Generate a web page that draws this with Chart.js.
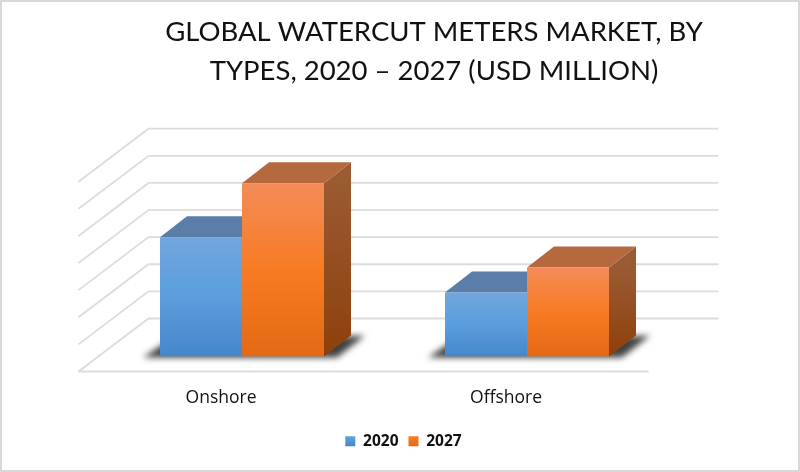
<!DOCTYPE html>
<html><head><meta charset="utf-8">
<style>html,body{margin:0;padding:0;background:#fff}canvas{display:block}#w{width:800px;height:472px;position:relative}</style>
<script src="https://cdn.jsdelivr.net/npm/chart.js@4"></script>
</head><body><div id="w"><canvas id="c" width="800" height="472"></canvas></div>
<script>
const categories = ["Onshore", "Offshore"];
const values2020 = [4.4, 2.36];
const values2027 = [6.39, 3.28];
const axisMax = 7;
const titleLines = ["GLOBAL WATERCUT METERS MARKET, BY", "TYPES, 2020 – 2027 (USD MILLION)"];

const FRONT = {dx:-21, dy:15}, BACK = {dx:49, dy:-38}, BAR = {dx:27, dy:-21};
function vgrad(ctx, top, bottom, stops){
  const g = ctx.createLinearGradient(0, top, 0, bottom);
  stops.forEach(s => g.addColorStop(s[0], s[1]));
  return g;
}
const blue = [[0,'#72A6DD'],[0.5,'#5A9EDD'],[1,'#4487CB']];
const orange = [[0,'#F48C58'],[0.5,'#F77B23'],[1,'#E36914']];
const sides = ['#9A5A32','#8E400B'];
const tops = ['#5A7EA8','#B5693F'];
function faceFill(stops){
  return c => {
    const a = c.chart.chartArea;
    if(!a) return stops[1][1];
    const y = c.chart.scales.y;
    return vgrad(c.chart.ctx, y.getPixelForValue(c.raw), y.getPixelForValue(0), stops);
  };
}
const wall3d = {
  id:'wall3d',
  afterLayout(chart){
    const t = chart.titleBlock; if(t){t.left += 49.5; t.right += 49.5;}
    const l = chart.legend; if(l){l.left += 19; l.right += 19;}
  },
  beforeDraw(chart){
    const {ctx, width, height} = chart;
    ctx.save();
    ctx.strokeStyle = '#D9D9D9'; ctx.lineWidth = 2;
    ctx.strokeRect(1, 1, width-2, height-2);
    ctx.restore();
  },
  beforeDatasetsDraw(chart){
    const {ctx, scales:{x,y}} = chart;
    const L = x.left, R = x.right;
    ctx.save();
    ctx.strokeStyle = '#DCDCDC'; ctx.lineWidth = 1.8;
    y.ticks.forEach(t => {
      const py = y.getPixelForValue(t.value);
      ctx.beginPath();
      ctx.moveTo(L+FRONT.dx, py+FRONT.dy);
      ctx.lineTo(L+BACK.dx, py+BACK.dy);
      ctx.lineTo(R+BACK.dx, py+BACK.dy);
      ctx.stroke();
    });
    const y0 = y.getPixelForValue(0);
    ctx.beginPath();
    ctx.moveTo(L+FRONT.dx, y0+FRONT.dy);
    ctx.lineTo(R+FRONT.dx, y0+FRONT.dy);
    ctx.stroke();
    // floor shadows
    const m0 = chart.getDatasetMeta(0).data, m1 = chart.getDatasetMeta(1).data;
    m0.forEach((b,i) => {
      const l = b.x - b.width/2, r = m1[i].x + m1[i].width/2;
      ctx.save();
      ctx.filter = 'blur(3px)';
      ctx.fillStyle = 'rgba(30,30,30,0.85)';
      ctx.beginPath();
      ctx.moveTo(l-17, y0+1); ctx.lineTo(l+4, y0-13);
      ctx.lineTo(r+BAR.dx+14, y0+BAR.dy); ctx.lineTo(r+13, y0+1);
      ctx.closePath(); ctx.fill();
      ctx.restore();
    });
    // bar depth faces
    [[m0,0],[m1,1]].forEach(([m,k]) => m.forEach(b => {
      const l = b.x-b.width/2, r = b.x+b.width/2, t = b.y, bt = b.base;
      ctx.fillStyle = vgrad(ctx, t, bt, [[0,sides[0]],[1,sides[1]]]);
      if(k===1){
        ctx.beginPath();
        ctx.moveTo(r,t); ctx.lineTo(r+BAR.dx,t+BAR.dy);
        ctx.lineTo(r+BAR.dx,bt+BAR.dy); ctx.lineTo(r,bt);
        ctx.closePath(); ctx.fill();
      }
      ctx.fillStyle = tops[k];
      ctx.beginPath();
      ctx.moveTo(l,t); ctx.lineTo(l+BAR.dx,t+BAR.dy);
      ctx.lineTo(r+BAR.dx,t+BAR.dy); ctx.lineTo(r,t);
      ctx.closePath(); ctx.fill();
    }));
    ctx.restore();
  }
};
new Chart(document.getElementById('c'), {
  type:'bar',
  data:{labels:categories, datasets:[
    {label:'2020', data:values2020, backgroundColor:faceFill(blue), barPercentage:1, categoryPercentage:0.5754, borderSkipped:false},
    {label:'2027', data:values2027, backgroundColor:faceFill(orange), barPercentage:1, categoryPercentage:0.5754, borderSkipped:false}
  ]},
  options:{
    responsive:false, animation:false, devicePixelRatio:1,
    layout:{padding:{left:99.5, right:130.5, top:13, bottom:13}},
    plugins:{
      title:{display:true, text:titleLines, color:'#111', font:{family:'Lato', size:27.5, weight:'normal', lineHeight:1.42}, padding:{top:0,bottom:75.6}},
      legend:{display:true, position:'bottom', labels:{boxWidth:10, boxHeight:10, color:'#111', font:{family:'Open Sans', size:15.5, weight:'bold'},
        generateLabels(chart){return chart.data.datasets.map((d,i)=>({text:d.label, fillStyle:vgrad(chart.ctx,430,446,i?orange:blue), strokeStyle:'transparent', lineWidth:0, datasetIndex:i, fontColor:'#111'}));}}},
      tooltip:{enabled:false}
    },
    scales:{
      x:{type:'category', grid:{display:false}, border:{display:false}, afterFit(s){s.height -= 8;}, ticks:{labelOffset:-21, padding:23, color:'#111', font:{family:'Open Sans', size:17.5}, maxRotation:0}},
      y:{display:false, min:0, max:axisMax, ticks:{stepSize:1}}
    }
  },
  plugins:[wall3d]
});
</script></body></html>
